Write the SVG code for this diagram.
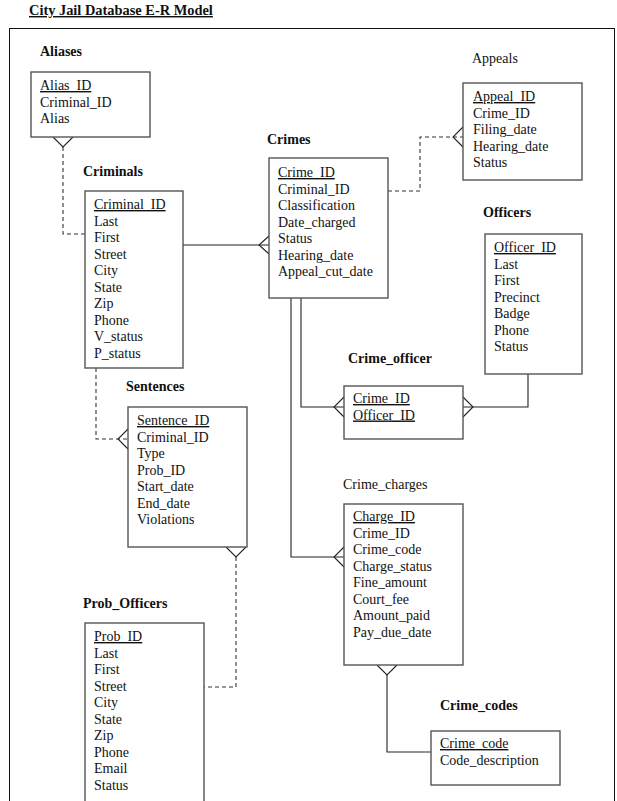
<svg xmlns="http://www.w3.org/2000/svg" width="617" height="801" viewBox="0 0 617 801">
<style>
text{font-family:"Liberation Serif","Times New Roman",serif;font-size:14px;fill:#111}
.lbl{font-weight:bold}
.u{text-decoration:underline}
.box{fill:#fff;stroke:#555;stroke-width:1.4}
.c{fill:none;stroke:#222;stroke-width:1.1}
.d{fill:none;stroke:#333;stroke-width:1.1;stroke-dasharray:4 3}
.cf{fill:none;stroke:#222;stroke-width:1.1}
</style>
<rect width="617" height="801" fill="#fff"/>
<text x="29" y="15" class="lbl u" style="font-size:14.4px">City Jail Database E-R Model</text>
<rect x="9.5" y="28.5" width="605" height="790" fill="none" stroke="#111" stroke-width="1"/>

<g id="connectors">
  <!-- Aliases - Criminals -->
  <path class="cf" d="M53,137 L63,147 L73,137"/>
  <path class="d" d="M63,147 V234 H85"/>
  <!-- Criminals - Crimes -->
  <path class="c" d="M183,245 H269"/>
  <path class="cf" d="M269,236 L259,245 L269,254"/>
  <!-- Crimes - Appeals -->
  <path class="d" d="M388,191 H420 V137 H463"/>
  <path class="cf" d="M463,127 L453,137 L463,147"/>
  <!-- Crimes - Crime_officer -->
  <path class="c" d="M301,298 V407 H344"/>
  <path class="cf" d="M344,397 L334,407 L344,417"/>
  <!-- Officers - Crime_officer -->
  <path class="c" d="M528,374 V407 H463"/>
  <path class="cf" d="M463,397 L473,407 L463,417"/>
  <!-- Crimes - Crime_charges -->
  <path class="c" d="M291,298 V557 H344"/>
  <path class="cf" d="M344,547 L334,557 L344,567"/>
  <!-- Crime_charges - Crime_codes -->
  <path class="cf" d="M377,665 L387,675 L397,665"/>
  <path class="c" d="M387,675 V752 H431"/>
  <!-- Criminals - Sentences -->
  <path class="d" d="M96,368 V439 H128"/>
  <path class="cf" d="M128,429 L118,439 L128,449"/>
  <!-- Sentences - Prob_Officers -->
  <path class="cf" d="M226,547 L236,557 L246,547"/>
  <path class="d" d="M236,557 V687 H204"/>
</g>

<g id="aliases">
  <text x="40" y="56" class="lbl">Aliases</text>
  <rect class="box" x="31" y="72" width="119" height="65"/>
  <text x="40" y="90" class="u">Alias_ID</text>
  <text x="40" y="106.5">Criminal_ID</text>
  <text x="40" y="123">Alias</text>
</g>

<g id="criminals">
  <text x="83" y="176" class="lbl">Criminals</text>
  <rect class="box" x="85" y="191" width="98" height="177"/>
  <text x="94" y="209" class="u">Criminal_ID</text>
  <text x="94" y="225.5">Last</text>
  <text x="94" y="242">First</text>
  <text x="94" y="258.5">Street</text>
  <text x="94" y="275">City</text>
  <text x="94" y="291.5">State</text>
  <text x="94" y="308">Zip</text>
  <text x="94" y="324.5">Phone</text>
  <text x="94" y="341">V_status</text>
  <text x="94" y="357.5">P_status</text>
</g>

<g id="crimes">
  <text x="267" y="144" class="lbl">Crimes</text>
  <rect class="box" x="269" y="158" width="119" height="140"/>
  <text x="278" y="177" class="u">Crime_ID</text>
  <text x="278" y="193.5">Criminal_ID</text>
  <text x="278" y="210">Classification</text>
  <text x="278" y="226.5">Date_charged</text>
  <text x="278" y="243">Status</text>
  <text x="278" y="259.5">Hearing_date</text>
  <text x="278" y="276">Appeal_cut_date</text>
</g>

<g id="appeals">
  <text x="472" y="63">Appeals</text>
  <rect class="box" x="463" y="83" width="119" height="97"/>
  <text x="473" y="101" class="u">Appeal_ID</text>
  <text x="473" y="117.5">Crime_ID</text>
  <text x="473" y="134">Filing_date</text>
  <text x="473" y="150.5">Hearing_date</text>
  <text x="473" y="167">Status</text>
</g>

<g id="officers">
  <text x="483" y="217" class="lbl">Officers</text>
  <rect class="box" x="485" y="234" width="97" height="140"/>
  <text x="494" y="252" class="u">Officer_ID</text>
  <text x="494" y="268.5">Last</text>
  <text x="494" y="285">First</text>
  <text x="494" y="301.5">Precinct</text>
  <text x="494" y="318">Badge</text>
  <text x="494" y="334.5">Phone</text>
  <text x="494" y="351">Status</text>
</g>

<g id="crime_officer">
  <text x="348" y="363" class="lbl">Crime_officer</text>
  <rect class="box" x="344" y="386" width="119" height="53"/>
  <text x="353" y="403" class="u">Crime_ID</text>
  <text x="353" y="419.5" class="u">Officer_ID</text>
</g>

<g id="sentences">
  <text x="126" y="391" class="lbl">Sentences</text>
  <rect class="box" x="128" y="407" width="119" height="140"/>
  <text x="137" y="425" class="u">Sentence_ID</text>
  <text x="137" y="441.5">Criminal_ID</text>
  <text x="137" y="458">Type</text>
  <text x="137" y="474.5">Prob_ID</text>
  <text x="137" y="491">Start_date</text>
  <text x="137" y="507.5">End_date</text>
  <text x="137" y="524">Violations</text>
</g>

<g id="crime_charges">
  <text x="343" y="489">Crime_charges</text>
  <rect class="box" x="344" y="504" width="119" height="161"/>
  <text x="353" y="521" class="u">Charge_ID</text>
  <text x="353" y="537.5">Crime_ID</text>
  <text x="353" y="554">Crime_code</text>
  <text x="353" y="570.5">Charge_status</text>
  <text x="353" y="587">Fine_amount</text>
  <text x="353" y="603.5">Court_fee</text>
  <text x="353" y="620">Amount_paid</text>
  <text x="353" y="636.5">Pay_due_date</text>
</g>

<g id="crime_codes">
  <text x="440" y="710" class="lbl">Crime_codes</text>
  <rect class="box" x="431" y="731" width="129" height="54"/>
  <text x="440" y="748" class="u">Crime_code</text>
  <text x="440" y="764.5">Code_description</text>
</g>

<g id="prob_officers">
  <text x="83" y="608" class="lbl">Prob_Officers</text>
  <rect class="box" x="85" y="623" width="119" height="200"/>
  <text x="94" y="641" class="u">Prob_ID</text>
  <text x="94" y="657.5">Last</text>
  <text x="94" y="674">First</text>
  <text x="94" y="690.5">Street</text>
  <text x="94" y="707">City</text>
  <text x="94" y="723.5">State</text>
  <text x="94" y="740">Zip</text>
  <text x="94" y="756.5">Phone</text>
  <text x="94" y="773">Email</text>
  <text x="94" y="789.5">Status</text>
</g>
</svg>
